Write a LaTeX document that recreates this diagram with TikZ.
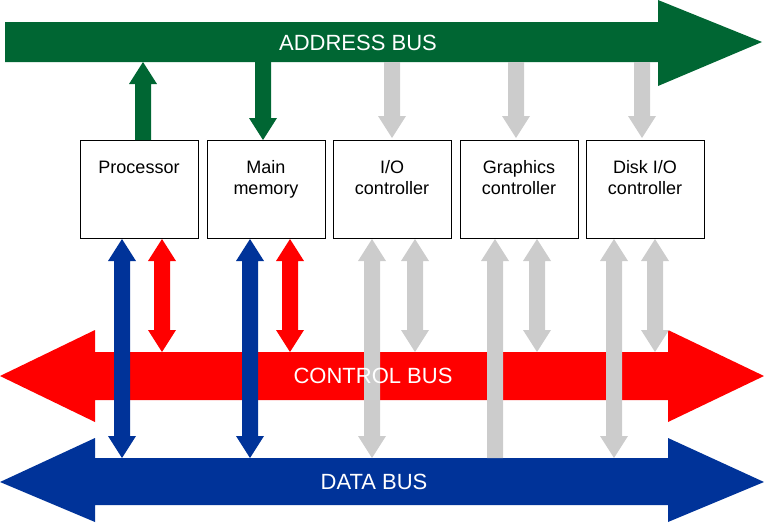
\documentclass[tikz,border=0pt]{standalone}
\usepackage{fontspec}
\setmainfont{Liberation Sans}
\definecolor{agreen}{HTML}{006633}
\definecolor{cred}{HTML}{FF0000}
\definecolor{dblue}{HTML}{003399}
\definecolor{lgray}{HTML}{CCCCCC}
% vertical double arrow: x, ytop, ybottom, colour
\newcommand\vdarr[4]{\fill[#4] (#1,#2) -- (#1+14,#2+22) -- (#1+8,#2+22) -- (#1+8,#3-22) -- (#1+14,#3-22) -- (#1,#3) -- (#1-14,#3-22) -- (#1-8,#3-22) -- (#1-8,#2+22) -- (#1-14,#2+22) -- cycle;}
% vertical up arrow (tip at ytop)
\newcommand\vuarr[4]{\fill[#4] (#1,#2) -- (#1+14,#2+22) -- (#1+8,#2+22) -- (#1+8,#3) -- (#1-8,#3) -- (#1-8,#2+22) -- (#1-14,#2+22) -- cycle;}
% vertical down arrow (tip at ybottom)
\newcommand\vdnarr[4]{\fill[#4] (#1,#3) -- (#1+14,#3-22) -- (#1+8,#3-22) -- (#1+8,#2) -- (#1-8,#2) -- (#1-8,#3-22) -- (#1-14,#3-22) -- cycle;}
\begin{document}
\begin{tikzpicture}[x=0.75pt,y=-0.75pt,
  box/.style={draw=black,line width=1pt,fill=white,minimum width=88.5pt,minimum height=73.5pt,inner sep=0pt,anchor=north west},
  lbl/.style={font=\fontsize{13.5}{15.5}\selectfont,align=center,anchor=north},
  bus/.style={font=\fontsize{16.5}{18}\selectfont,text=white}]
\useasboundingbox (0,0) rectangle (764,522);
% address bus
\fill[agreen] (5,22) -- (658,22) -- (658,0) -- (762,42) -- (658,86) -- (658,62) -- (5,62) -- cycle;
\node[bus] (ab) at (358,43) {ADDRESS BUS};
% control bus
\fill[cred] (0,376) -- (95,330) -- (95,352) -- (668,352) -- (668,330) -- (764,376) -- (668,422) -- (668,400) -- (95,400) -- (95,422) -- cycle;
% data bus
\fill[dblue] (0,482) -- (95,438) -- (95,458) -- (668,458) -- (668,438) -- (764,482) -- (668,522) -- (668,505) -- (95,505) -- (95,522) -- cycle;
% boxes
\node[box] (p) at (80,140) {};
\node[box] (m) at (207,140) {};
\node[box] (io) at (333,140) {};
\node[box] (g) at (460,140) {};
\node[box] (d) at (586,140) {};
\node[lbl] (pl) at (139,156) {Processor};
\node[lbl] (ml) at (266,156) {Main\\memory};
\node[lbl] (iol) at (392,156) {I/O\\controller};
\node[lbl] (gl) at (519,156) {Graphics\\controller};
\node[lbl] (dl) at (645,156) {Disk I/O\\controller};
% address arrows
\vuarr{143}{62}{140}{agreen}
\vdnarr{263}{62}{140}{agreen}
\vdnarr{392}{62}{138}{lgray}
\vdnarr{516}{62}{138}{lgray}
\vdnarr{642}{62}{138}{lgray}
% control arrows
\vdarr{162}{239}{352}{cred}
\vdarr{290}{239}{352}{cred}
\vdarr{415}{239}{352}{lgray}
\vdarr{537}{239}{352}{lgray}
\vdarr{655}{239}{352}{lgray}
% data arrows
\vdarr{122}{239}{458}{dblue}
\vdarr{250}{239}{458}{dblue}
\vdarr{372}{239}{458}{lgray}
\vuarr{495}{239}{458}{lgray}
\vdarr{614}{239}{458}{lgray}
\node[bus] (cb) at (373,376) {CONTROL BUS};
\node[bus] (db) at (374,482) {DATA BUS};
\end{tikzpicture}
\end{document}
